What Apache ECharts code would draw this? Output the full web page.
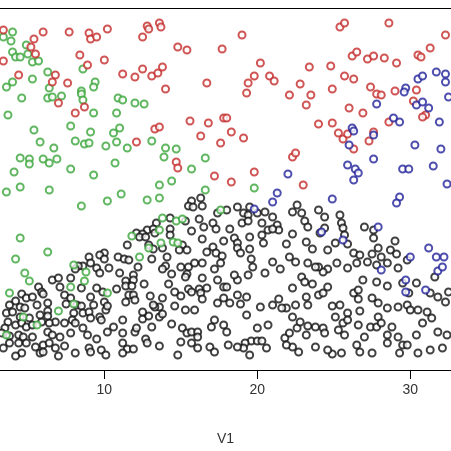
<!DOCTYPE html>
<html><head><meta charset="utf-8">
<script src="https://cdn.jsdelivr.net/npm/echarts@6/dist/echarts.min.js"></script>
<style>html,body{margin:0;padding:0;background:#fff}#c{width:451px;height:451px}</style>
</head><body><div id="c"></div>
<script>
const xTicks = [10, 20, 30];
const xName = 'V1';
const redPts = [[3.4,340],[6.0,338],[7.7,338],[9.0,337],[9.1,331],[9.5,333],[10.2,341],[12.8,344],[12.9,341],[13.6,347],[13.7,343],[12.5,333],[5.4,331],[5.2,323],[5.5,316],[3.4,309],[8.4,315],[10.0,310],[8.9,305],[14.8,323],[15.4,320],[17.7,321],[11.2,296],[12.0,293],[12.5,301],[13.1,294],[13.5,297],[13.8,303],[14.0,281],[16.7,287],[4.4,295],[6.8,295],[6.6,288],[7.0,267],[7.6,287],[8.7,263],[8.1,257],[15.6,249],[16.8,247],[17.8,252],[13.3,241],[13.6,243],[16.3,234],[17.6,227],[12.1,228],[14.7,208],[14.8,202],[17.2,194],
[19.0,335],[25.4,343],[25.7,347],[28.6,347],[32.3,335],[20.2,307],[19.8,294],[19.4,287],[19.3,277],[20.8,294],[21.1,289],[23.4,303],[24.8,304],[22.8,286],[22.1,275],[23.5,275],[23.2,265],[24.9,281],[25.7,294],[26.3,291],[26.2,314],[26.5,318],[27.2,311],[27.6,314],[28.3,312],[29.1,307],[30.5,315],[31.3,322],[30.7,313],[27.4,283],[27.8,276],[28.1,275],[29.0,279],[30.4,280],[26.0,262],[26.9,257],[24.0,246],[24.9,247],[25.3,237],[25.6,231],[25.9,236],[26.3,221],[27.3,229],[27.6,238],[28.6,248],[31.0,255],[30.8,253],[30.2,269],[18.0,252],[18.3,238],[19.1,232],[22.3,213],[22.5,217],[19.8,198],[23.0,185],[18.3,188]];
const bluePts = [[29.7,282],[29.6,278],[27.8,266],[30.5,291],[30.8,294],[31.7,298],[32.3,296],[32.3,288],[32.5,273],[30.4,265],[30.8,268],[31.2,262],[28.9,252],[29.3,248],[31.9,248],[26.2,242],[26.3,239],[27.6,235],[26.0,225],[30.3,225],[32.0,221],[27.6,211],[25.9,205],[26.4,201],[26.6,197],[26.3,190],[29.5,201],[29.9,201],[31.5,204],[22.0,196],[32.4,186],[29.3,173],[29.1,167],[24.9,171],[21.0,168],[21.3,177],[19.8,161],[24.2,138],[25.6,130],[27.9,143],[31.2,122],[31.7,113],[32.2,113],[31.8,99],[32.1,103],[30.0,113],[29.7,90],[31.0,80],[29.7,78],[28.1,100]];
const greenPts = [[4.0,338],[3.9,329],[3.4,333],[4.9,325],[4.0,318],[4.2,313],[4.5,313],[5.0,316],[5.3,308],[5.7,309],[6.3,298],[5.3,291],[4.0,288],[3.6,283],[4.6,272],[6.4,282],[6.3,272],[6.6,273],[7.2,274],[8.6,301],[9.4,288],[9.3,283],[8.5,279],[8.5,276],[8.6,270],[9.3,257],[10.9,272],[11.2,270],[12.0,267],[12.6,266],[10.8,257],[3.7,255],[7.8,244],[5.4,240],[9.1,238],[11.0,242],[10.6,237],[5.8,228],[6.7,222],[8.1,229],[8.7,226],[9.0,227],[10.1,224],[10.8,228],[11.5,222],[13.1,229],[14.0,222],[14.7,221],[13.9,213],[16.6,212],[4.5,212],[5.1,211],[5.1,206],[6.0,211],[6.4,207],[6.9,211],[10.7,207],[7.8,201],[4.1,198],[9.3,195],[15.7,201],[14.4,189],[13.6,185],
[3.6,178],[4.5,183],[6.4,180],[8.5,164],[10.2,169],[11.1,176],[12.8,170],[13.6,172],[16.6,180],[17.6,160],[4.5,132],[6.3,118],[4.2,111],[4.8,97],[5.1,89],[3.8,77],[13.8,152],[13.6,140],[14.7,149],[15.1,151],[14.5,128],[14.8,127],[12.9,122],[13.7,127],[12.3,113],[11.8,134],[8.0,105],[8.8,98],[7.8,83],[10.2,77],[7.0,59],[5.6,45],[4.7,53],[3.6,35],[8.0,66],[8.7,89],[19.8,182]];
const blackPts = [[15.7,169],[16.3,172],[15.5,164],[15.8,163],[16.4,164],[17.4,157],[14.3,152],[16.2,151],[15.3,149],[13.4,147],[17.1,147],[17.3,141],[16.5,143],[15.7,139],[12.8,140],[13.2,141],[12.1,137],[12.5,136],[14.3,141],[14.3,135],[12.3,133],[12.7,133],[13.3,137],[11.5,125],[12.9,125],[13.2,121],[13.8,122],[15.1,125],[14.9,120],[15.4,120],[16.4,131],[17.8,129],[17.1,123],[16.7,118],[17.3,117],[17.7,114],[17.6,107],[14.1,113],[13.1,111],[10.9,113],[11.3,111],[11.6,110],[10.0,117],[9.7,115],[9.0,113],[9.1,107],[10.0,111],[8.6,104],[8.3,104],[8.1,101],[9.5,102],[9.7,97],[10.3,102],[11.0,97],[12.2,103],[14.0,104],[13.8,101],[15.0,103],[15.5,103],[15.4,96],[15.9,107],[16.4,107],[15.3,93],[14.4,96],[16.4,92],[17.2,101],[17.4,90],[11.9,95],[11.4,89],[11.9,90],[12.6,86],[14.2,86],[14.6,78],[15.5,81],[16.2,81],[16.7,82],[16.3,77],[17.8,83],[10.8,81],[11.4,84],[11.8,84],[11.6,75],[11.9,75],[12.0,70],[11.4,68],[13.0,74],[13.8,72],[15.0,74],[15.7,78],[16.4,71],[17.4,67],[17.8,72],[9.9,78],[9.5,82],[8.5,82],[7.8,92],[7.1,83],[6.6,90],[7.0,92],[5.7,83],[5.9,78],[6.0,76],[4.6,76],[4.9,72],[5.3,73],[4.2,69],[3.8,65],[4.5,63],[4.8,62],[5.6,65],[6.3,67],[6.3,59],[7.4,75],[7.8,72],[7.5,66],[8.2,65],[8.5,64],[9.1,73],[9.3,65],[10.0,68],[10.1,60],[10.2,64],[8.6,57],[8.0,57],[9.0,58],[9.7,53],[9.1,52],[9.8,50],[7.9,50],[8.1,47],[7.4,47],[6.8,48],[6.4,47],[5.9,48],[5.8,55],[6.3,54],[5.1,52],[4.5,53],[3.6,57],[4.0,58],[3.7,48],[4.2,45],[4.6,47],[4.9,43],[5.3,45],[3.5,42],[3.3,37],[3.8,34],[4.4,35],[4.7,33],[5.3,33],[6.3,38],[6.6,35],[7.1,33],[7.8,37],[8.6,42],[8.9,35],[9.5,31],[10.2,38],[10.6,43],[11.2,37],[11.2,50],[12.0,38],[12.1,42],[12.5,51],[12.9,54],[13.1,43],[13.6,53],[13.6,63],[13.3,63],[13.8,56],[13.2,65],[12.5,58],[14.6,64],[15.3,60],[15.9,60],[14.4,46],[15.1,42],[15.4,37],[15.7,38],[16.1,38],[16.1,33],[17.2,50],[17.8,45],[17.0,43],[12.7,31],[12.8,27],[13.6,24],[15.0,28],[14.8,15],[15.7,27],[16.1,22],[16.9,23],[17.2,18],[11.2,27],[11.5,21],[11.9,21],[11.2,17],[9.8,20],[10.1,15],[9.0,22],[9.1,18],[8.1,17],[7.0,14],[7.4,24],[6.0,25],[5.5,23],[5.8,17],[6.0,18],[4.6,17],[4.2,14],[3.4,22],[3.8,27],[4.4,27],[4.9,27],[6.4,27],[6.8,22],
[18.0,160],[18.7,163],[19.1,157],[19.4,155],[19.5,163],[20.0,157],[20.5,158],[19.0,147],[18.2,141],[18.5,132],[19.4,149],[20.3,147],[21.0,153],[21.3,145],[21.4,140],[20.7,140],[20.3,135],[19.5,133],[18.7,127],[18.7,122],[18.9,117],[19.5,121],[19.6,111],[20.4,127],[21.0,141],[21.9,126],[22.3,136],[22.6,165],[22.3,158],[22.9,157],[23.1,149],[23.3,143],[23.2,128],[23.6,121],[24.1,137],[24.4,142],[24.0,160],[24.4,153],[25.4,155],[25.5,147],[25.6,142],[25.7,135],[25.9,126],[25.1,127],[24.6,120],[26.3,117],[26.7,115],[27.0,143],[27.6,140],[27.6,132],[27.9,122],[27.5,116],[28.1,113],[28.7,120],[29.0,129],[29.1,116],[29.8,110],[29.2,102],[28.5,107],[27.8,105],[27.2,108],[26.5,107],[25.9,102],[25.2,107],[24.6,101],[24.3,98],[24.0,103],[23.8,103],[23.3,107],[22.5,108],[22.1,113],[21.5,101],[21.0,108],[20.5,97],[19.7,103],[19.4,95],[18.7,90],[18.5,95],[18.0,83],[18.7,75],[19.3,73],[18.2,67],[18.9,66],[20.2,63],[21.0,65],[21.4,71],[21.9,62],[22.3,82],[22.5,65],[22.9,93],[23.1,88],[23.2,73],[23.3,65],[23.6,86],[24.0,75],[24.3,77],[24.6,83],[24.9,64],[25.4,65],[25.9,57],[26.3,77],[26.6,80],[26.6,71],[26.7,59],[26.9,90],[27.5,72],[27.8,88],[27.9,67],[28.5,84],[28.5,62],[29.2,63],[29.5,87],[29.8,65],[29.9,77],[30.0,60],[30.4,87],[30.5,60],[31.1,58],[31.3,77],[31.6,93],[31.8,73],[32.3,68],[32.5,78],[25.1,53],[25.6,47],[25.3,40],[25.9,50],[25.7,35],[26.6,45],[27.0,33],[27.4,43],[27.8,43],[27.9,53],[28.1,47],[28.5,35],[28.8,43],[29.2,33],[29.5,25],[29.3,17],[30.4,35],[30.8,47],[31.4,52],[31.8,38],[32.4,35],[32.1,22],[31.3,20],[30.5,17],[29.8,25],[28.5,27],[27.5,17],[26.7,18],[26.5,25],[25.5,17],[24.9,16],[24.6,20],[23.8,23],[22.7,18],[22.3,23],[21.8,32],[21.9,25],[22.1,37],[22.6,42],[23.3,44],[23.8,43],[24.3,42],[23.2,35],[24.4,37],[22.8,48],[22.3,53],[21.6,62],[20.7,45],[20.0,42],[19.6,29],[20.0,29],[20.3,29],[19.2,27],[19.5,15],[19.1,22],[18.7,23],[18.1,25],[20.6,22],[18.0,38],[19.3,55]];

const chart = echarts.init(document.getElementById('c'), null, {renderer: 'canvas'});
function ser(data, color) {
  return {type: 'scatter', data: data, symbol: 'emptyCircle', symbolSize: 7,
    itemStyle: {color: color, borderColor: color, borderWidth: 0.9}, silent: true, animation: false};
}
chart.setOption({
  animation: false,
  grid: {left: 0, right: 0, top: 8, bottom: 81},
  xAxis: [{
    type: 'value', min: 3.18, max: 32.66, position: 'bottom',
    name: xName, nameLocation: 'middle', nameGap: 62,
    nameTextStyle: {color: '#333', fontSize: 14, fontFamily: 'Liberation Sans'},
    axisLine: {show: true, onZero: false, lineStyle: {color: '#000', width: 1}},
    axisTick: {show: true, length: 9, inside: false, customValues: xTicks, lineStyle: {color: '#000'}},
    axisLabel: {customValues: xTicks, margin: 13, color: '#333', fontSize: 14, fontFamily: 'Liberation Sans'},
    splitLine: {show: false}
  }, {
    type: 'value', min: 3.18, max: 32.66, position: 'top',
    axisLine: {show: true, onZero: false, lineStyle: {color: '#000', width: 1}},
    axisTick: {show: false}, axisLabel: {show: false}, splitLine: {show: false}
  }],
  yAxis: {type: 'value', min: 0, max: 362, show: false},
  series: [ser(blackPts, '#111111'), ser(greenPts, '#3aa53a'), ser(redPts, '#c42a2a'), ser(bluePts, '#22229a')]
});
</script></body></html>
